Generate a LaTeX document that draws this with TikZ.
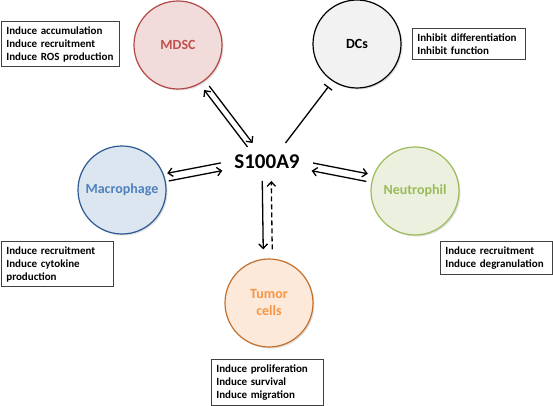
\documentclass[tikz,border=0pt]{standalone}
\usepackage{fontspec}
\setmainfont{Carlito}
\usetikzlibrary{arrows.meta,positioning,shadows}

\definecolor{mdscline}{RGB}{178,72,70}
\definecolor{mdscfill}{RGB}{242,220,219}
\definecolor{mdsctext}{RGB}{192,80,77}
\definecolor{macroline}{RGB}{44,90,146}
\definecolor{macrofill}{RGB}{220,230,241}
\definecolor{macrotext}{RGB}{79,129,189}
\definecolor{neutroline}{RGB}{155,187,89}
\definecolor{neutrofill}{RGB}{235,241,222}
\definecolor{tumorline}{RGB}{196,112,44}
\definecolor{tumorfill}{RGB}{253,233,217}
\definecolor{tumortext}{RGB}{247,150,70}
\definecolor{dcsfill}{RGB}{242,242,242}

\begin{document}
\begin{tikzpicture}[x=1pt, y=-1pt, >={Straight Barb[length=4.5pt,width=8.5pt]},
		cell/.style={circle, minimum size=88pt, line width=1.2pt, align=center,
				font=\fontsize{14}{17}\selectfont\bfseries,
				drop shadow={shadow xshift=1.5pt, shadow yshift=-1.5pt, opacity=0.25}},
		effect/.style={draw=black!75, line width=0.7pt, anchor=north west, align=left,
				inner sep=5pt, text width=#1, font=\fontsize{11}{13}\selectfont\bfseries},
		link/.style={line width=1.3pt}]
	\useasboundingbox (0,0) rectangle (553,406);

	% --- Centrale eiwit ---
	\node[font=\fontsize{21}{24}\selectfont\bfseries, inner sep=2pt, outer sep=10pt] (s100) at (267,162) {S100A9};

	% --- Celtypen ---
	\node[cell, draw=mdscline, fill=mdscfill, text=mdsctext] (mdsc) at (178,45) {MDSC};
	\node[cell, draw=black, fill=dcsfill] (dcs) at (357,44) {DCs};
	\node[cell, draw=macroline, fill=macrofill, text=macrotext] (macro) at (122,190) {Macrophage};
	\node[cell, draw=neutroline, fill=neutrofill, text=neutroline] (neutro) at (415,191) {Neutrophil};
	\node[cell, draw=tumorline, fill=tumorfill, text=tumortext] (tumor) at (269,303) {Tumor\\cells};

	% --- Effecten ---
	\node[effect=108pt] (mdscbox) at (1,21) {Induce accumulation\\Induce recruitment\\Induce ROS production};
	\node[effect=103pt] (dcsbox) at (412,28) {Inhibit differentiation\\Inhibit function};
	\node[effect=102pt] (macrobox) at (1,241) {Induce recruitment\\Induce cytokine\\production};
	\node[effect=102pt] (neutrobox) at (440,241) {Induce recruitment\\Induce degranulation};
	\node[effect=102pt] (tumorbox) at (211,359) {Induce proliferation\\Induce survival\\Induce migration};

	% --- Verbindingen ---
	\draw[link, ->, shorten >=7pt, transform canvas={shift={(-5.1,3.9)}}] (s100) -- (mdsc);
	\draw[link, ->, shorten <=7pt] (mdsc) -- (s100);

	\draw[link, -{Bar[width=10pt]}, shorten >=9pt, transform canvas={shift={(4,0)}}] (s100) -- (dcs);

	\draw[link, ->, shorten >=3pt, transform canvas={shift={(-1.5,-7.7)}}] (s100) -- (macro);
	\draw[link, ->, shorten <=3pt] (macro) -- (s100);

	\draw[link, ->, shorten >=5pt, transform canvas={shift={(1.5,-7.7)}}] (s100) -- (neutro);
	\draw[link, ->, shorten <=5pt] (neutro) -- (s100);

	\draw[link, ->, shorten >=9pt, transform canvas={shift={(-5,0)}}] (s100) -- (tumor);
	\draw[link, ->, dash pattern=on 5pt off 3pt, shorten <=9pt, transform canvas={shift={(4,0)}}] (tumor) -- (s100);

\end{tikzpicture}
\end{document}
